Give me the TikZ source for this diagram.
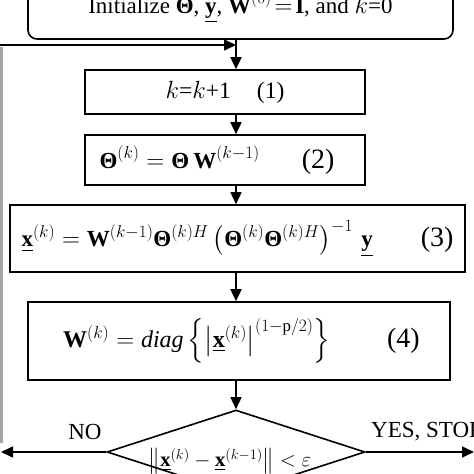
\documentclass[tikz,border=0pt]{standalone}
\usepackage{amsmath}
\usepackage{fontspec}
\setmainfont{Liberation Serif}
\usetikzlibrary{arrows.meta,shapes.geometric}
\newcommand{\bTh}{\text{\bfseries Θ}}
\newcommand{\ux}{\underline{\mathbf{x}}}
\newcommand{\uy}{\underline{\mathbf{y}}}
\newcommand{\eqnum}[1]{{\fontsize{28}{32}\selectfont(#1)}}
\begin{document}
\begin{tikzpicture}[x=1pt,y=-1pt,
  box/.style={draw,line width=1.6pt,inner sep=0pt},
  arr/.style={line width=1.6pt,-{Triangle[length=12pt,width=11pt]}},
  lbl/.style={font=\fontsize{23}{27}\selectfont,inner sep=0pt}]
\useasboundingbox (0,0) rectangle (474,474);
\clip (0,0) rectangle (474,474);
\coordinate (j) at (236,45);
\coordinate (fb) at (0,45);
\node[box,rounded corners=9pt,minimum width=425pt,minimum height=64pt,
  font=\fontsize{23}{27}\selectfont] (init) at (240.5,7)
  {Initialize $\bTh$, $\uy$, $\mathbf{W}^{(0)}\!=\!\mathbf{I}$, and $k$=0};
\node[box,minimum width=280pt,minimum height=44pt,font=\fontsize{23.5}{28}\selectfont]
  (b1) at (225,92) {$k$=$k$+1\hspace{26pt}(1)};
\node[box,minimum width=280pt,minimum height=50pt,font=\fontsize{23}{28}\selectfont] (b2) at (225,160)
  {$\bTh^{(k)} = \bTh\,\mathbf{W}^{(k-1)}$\hspace{42pt}\eqnum{2}\hspace*{16pt}};
\node[box,minimum width=455pt,minimum height=67pt,font=\fontsize{23}{28}\selectfont] (b3) at (237.5,238.5)
  {$\ux^{(k)} = \mathbf{W}^{(k-1)}\bTh^{(k)H}\left(\bTh^{(k)}\bTh^{(k)H}\right)^{-1}\,\uy$\hspace{48pt}\eqnum{3}};
\node[box,minimum width=422pt,minimum height=78pt,font=\fontsize{24}{28}\selectfont] (b4) at (239,341)
  {\hspace*{5pt}$\mathbf{W}^{(k)} = \mathit{diag}\left\{\left|\ux^{(k)}\right|^{\left(1-\mathrm{p}/2\right)}\right\}$\hspace{57pt}\eqnum{4}};
\node[diamond,draw,line width=1.6pt,minimum width=258pt,minimum height=84pt,
  inner sep=0pt,aspect=3.07] (dec) at (236,452) {};
\node[inner sep=0pt,font=\fontsize{20.5}{24}\selectfont] (cond) at (230,461)
  {$\left\|\ux^{(k)}-\ux^{(k-1)}\right\|<\varepsilon$};
\coordinate (noend) at (1,452);
\coordinate (yesend) at (474,452);
\draw[line width=1.6pt] (init.south -| j) -- (j);
\draw[arr] (j) -- (b1.north -| j);
\draw[arr] (fb) -- (j);
\draw[arr] (b1.south -| j) -- (b2.north -| j);
\draw[arr] (b2.south -| j) -- (b3.north -| j);
\draw[arr] (b3.south -| j) -- (b4.north -| j);
\draw[arr] (b4.south -| j) -- (dec.north);
\draw[arr] (dec.west) -- (noend);
\draw[arr] (dec.east) -- (yesend);
\draw[gray!70,line width=2.2pt] (1.5,47) -- (1.5,443);
\node[lbl] (no) at (85,432) {NO};
\node[lbl,anchor=west] (yes) at (371,432) {YES, STOP};
\end{tikzpicture}
\end{document}
